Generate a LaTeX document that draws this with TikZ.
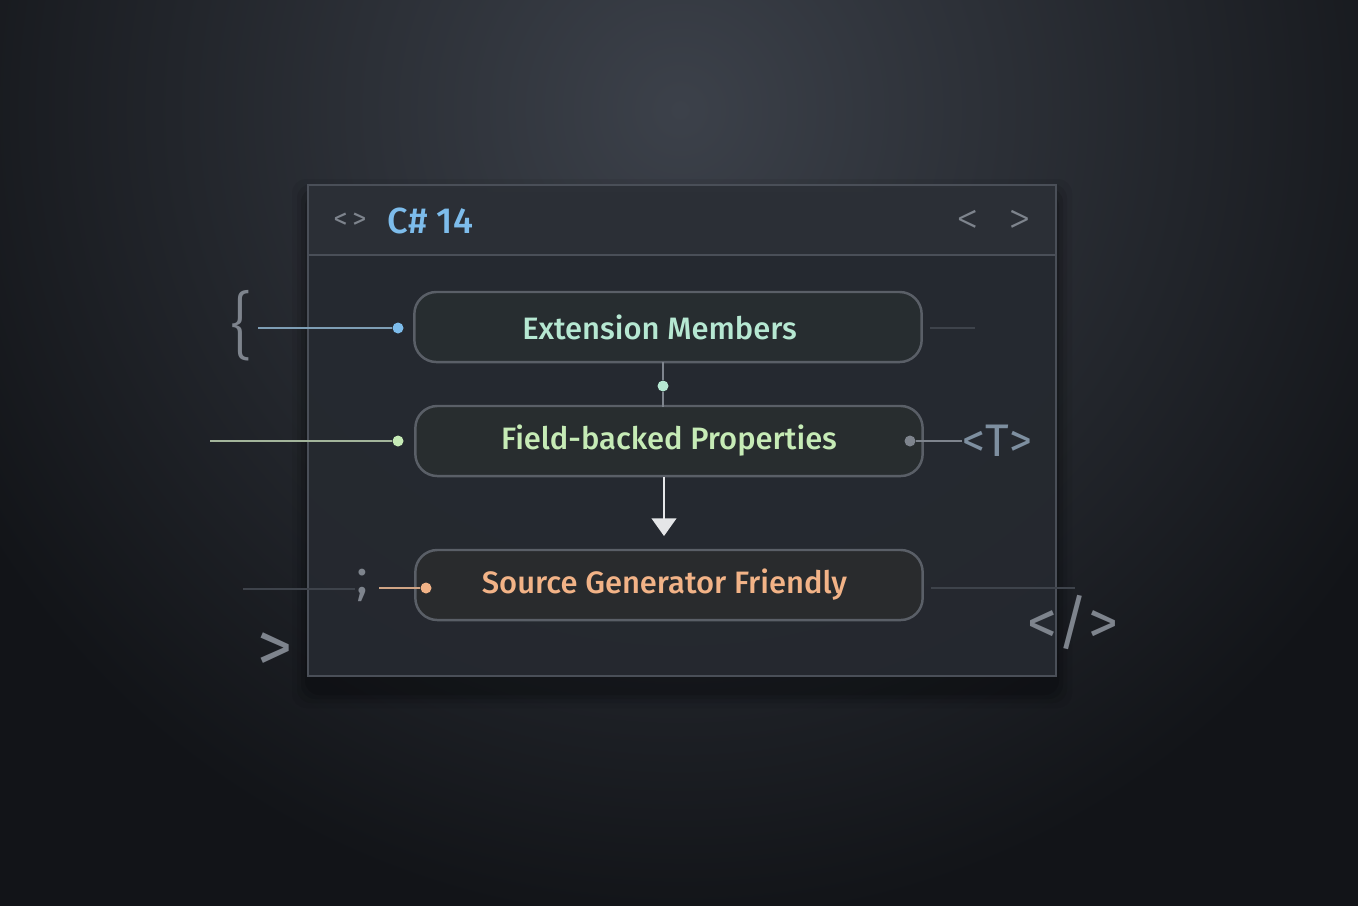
\documentclass[tikz,border=0pt]{standalone}
\usepackage{fontspec}
\setmainfont{Fira Sans}[UprightFont=* Medium, BoldFont=* SemiBold]
\newfontfamily\plainfont{Fira Sans}
\newfontfamily\lightfont{Fira Sans Light}
\usetikzlibrary{positioning,arrows.meta}

\definecolor{bgout}{HTML}{121418}
\definecolor{bgin}{HTML}{3C414A}
\definecolor{winfill}{HTML}{262A31}
\definecolor{winline}{HTML}{4A4F58}
\definecolor{boxfill}{HTML}{212529}
\definecolor{boxline}{HTML}{5A5F67}
\definecolor{symgray}{HTML}{7E848D}
\definecolor{faint}{HTML}{3E434B}
\definecolor{csblue}{HTML}{7DBCEB}
\definecolor{mint}{HTML}{B6E8D2}
\definecolor{leaf}{HTML}{C6EBB6}
\definecolor{peach}{HTML}{F2B387}

\pgfdeclareradialshading{glow}{\pgfpoint{0bp}{0bp}}{color(0bp)=(bgin); color(17bp)=(bgout); color(50bp)=(bgout)}

\begin{document}
\begin{tikzpicture}[x=0.01cm, y=-0.01cm,
  box/.style={draw=boxline, line width=0.7pt, rounded corners=2.2mm,
    minimum width=5.07cm, minimum height=0.7cm, font=\fontsize{8.8}{10}\selectfont},
  dot/.style={circle, fill=#1, inner sep=0pt, minimum size=0.11cm},
  link/.style={draw=#1, line width=0.5pt},
  glyph/.style={text=symgray, inner sep=0pt, font=\plainfont\fontsize{#1}{#1}\selectfont}]

% background
\useasboundingbox (0,0) rectangle (1358,905);
\begin{scope}
\clip (0,0) rectangle (1358,905);
\shade[shading=glow] (680,110) circle (12cm);
\end{scope}

% window with soft shadow
\foreach \d/\o in {16/0.05,11/0.08,7/0.1,3/0.12}
  \fill[black, opacity=\o, rounded corners=4pt] (308-\d,195-\d) rectangle (1056+\d,692+\d);
\fill[winfill, opacity=0.95] (308,185) rectangle (1056,676);
\fill[white, opacity=0.03] (308,185) rectangle (1056,255);
\draw[winline, line width=0.7pt] (308,185) rectangle (1056,676);
\draw[winline, line width=0.6pt] (308,255) -- (1056,255);

% header
\node[glyph=8] (code) at (350,221) {<\,>};
\node[text=csblue, inner sep=0pt, font=\fontsize{10.3}{12}\selectfont, anchor=west] (title) at (387,221) {C\# 14};
\node[glyph=13, font=\lightfont\fontsize{13}{13}\selectfont] (prev) at (968,222) {<};
\node[glyph=13, font=\lightfont\fontsize{13}{13}\selectfont] (next) at (1020,222) {>};

% boxes
\node[box, text=mint, fill=boxfill!96!mint] (ext) at (668,327) {Extension Members\hspace*{4.8pt}};
\node[box, text=leaf, fill=boxfill!96!leaf] (field) at (669,441) {Field-backed Properties};
\node[box, text=peach, fill=boxfill!96!peach] (source) at (669,585) {Source Generator Friendly\hspace*{2.6pt}};

% links between boxes
\node[dot=mint] (mid) at (663,386) {};
\draw[link=symgray] (663,362) -- (mid) -- (663,407);
\draw[link=white!80!symgray, -{Triangle[width=7pt,length=5pt]}] (field.south -| 664,0) -- (664,536);

% left side
\node[glyph=20, font=\lightfont\fontsize{21}{21}\selectfont] (brace) at (242,326) {\{};
\node[dot=csblue] (d1) at (398,328) {};
\draw[link=csblue!50!gray] (258,328) -- (d1);
\node[dot=leaf] (d2) at (398,441) {};
\coordinate (l2) at (210,441);
\draw[link=leaf!50!gray] (l2) -- (d2);
\node[glyph=14] (semi) at (362,585) {;};
\coordinate (l3) at (243,589);
\draw[link=faint] (l3) -- (semi.west |- l3);
\node[dot=peach] (d3) at (426,588) {};
\draw[link=peach!70!gray] ([xshift=3pt]semi.east |- d3) -- (d3);
\node[glyph=20] (prompt) at (275,652) {>};

% right side
\coordinate (r1) at (975,328);
\draw[link=faint] ([xshift=2pt]ext.east |- r1) -- (r1);
\node[dot=symgray] (d4) at (910,441) {};
\node[glyph=13, right=13pt of d4, text=symgray!80!csblue] (tparam) {<T>};
\draw[link=symgray] (d4) -- (tparam);
\coordinate (r3) at (1075,588);
\draw[link=faint] ([xshift=2pt]source.east |- r3) -- (r3);
\node[glyph=17] (tag) at (1073,622) {</>};
\end{tikzpicture}
\end{document}
